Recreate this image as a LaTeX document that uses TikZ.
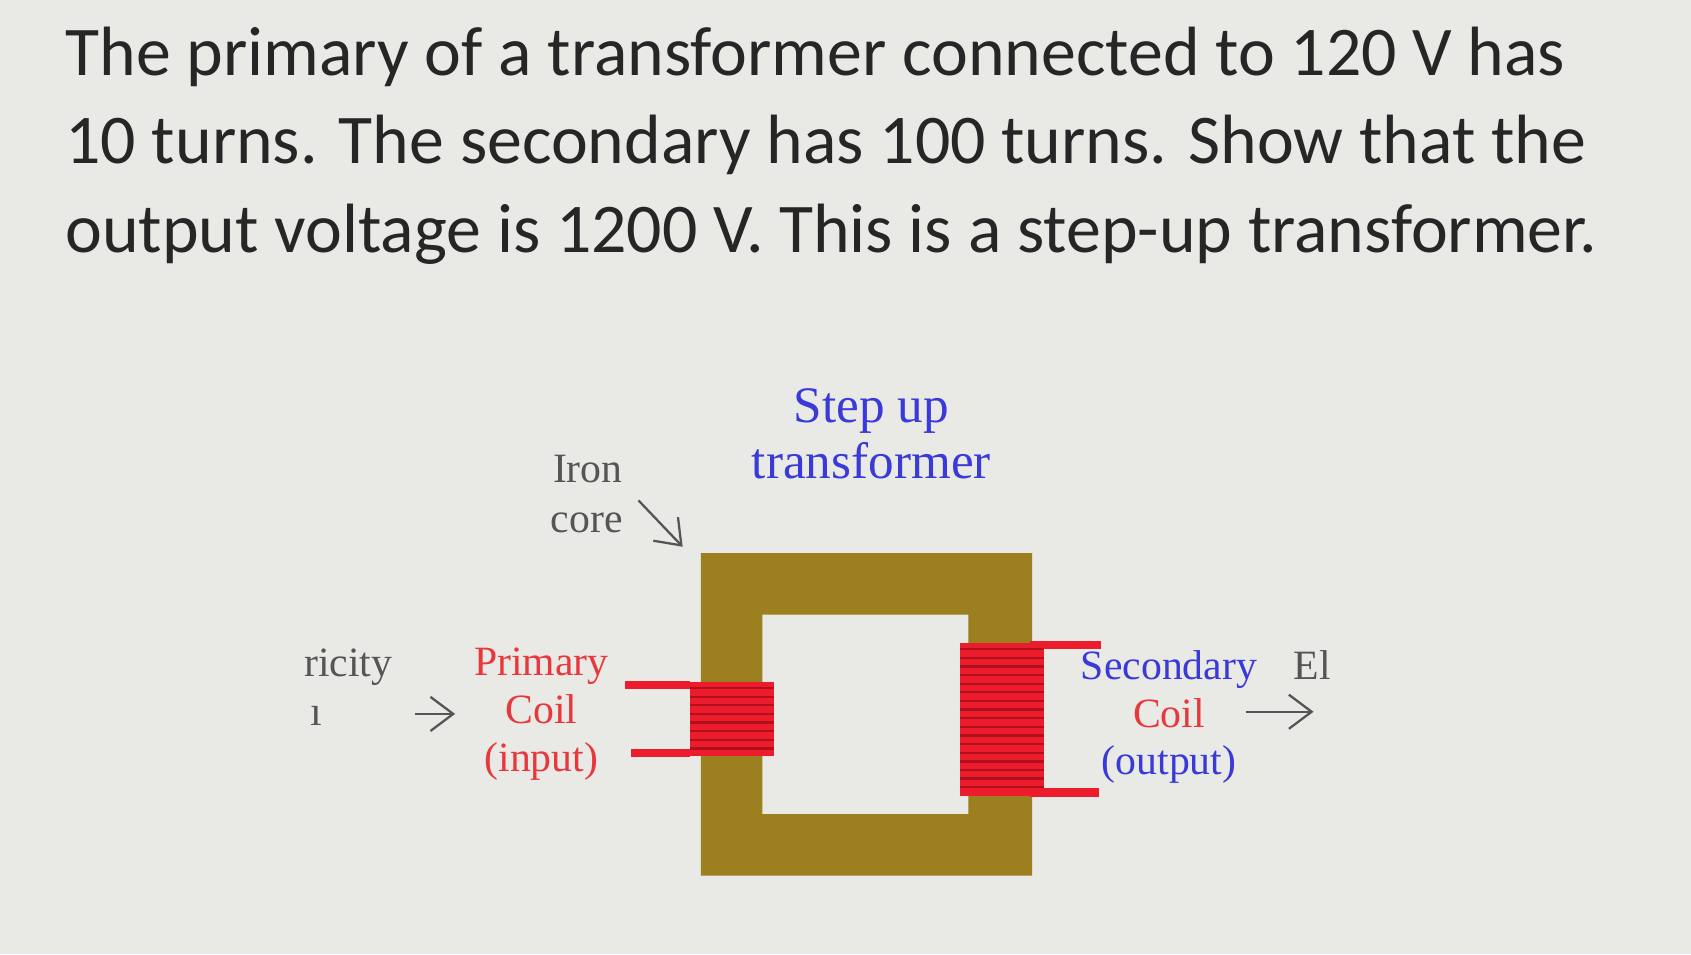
\documentclass[tikz,border=0pt]{standalone}
\usepackage{fontspec}
\setmainfont{Liberation Serif}
\newfontfamily\titlefont{Carlito}
\usetikzlibrary{arrows.meta}
\definecolor{bg}{HTML}{E9E9E6}
\definecolor{core}{HTML}{9C7F1E}
\definecolor{coil}{HTML}{EC1C2C}
\definecolor{coildark}{HTML}{B0101C}
\definecolor{lab}{HTML}{E8383C}
\definecolor{blu}{HTML}{3A3AD8}
\definecolor{gr}{HTML}{555555}
\tikzset{lbl/.style={font=\fontsize{11}{12.6}\selectfont},
  arr/.style={-{Straight Barb[length=6pt,width=9pt]},gr,line width=0.6pt},
  lead/.style={coil,line width=2.2pt}}
\begin{document}
\begin{tikzpicture}[x=0.01cm,y=-0.01cm]
\fill[bg] (0,0) rectangle (1568,885);
\useasboundingbox (0,0) rectangle (1568,885);
\node[anchor=north west,align=left,font=\titlefont\fontsize{18.4}{23.4}\selectfont,text=black!85,inner sep=0] (title) at (60,24)
{The primary of a transformer connected to 120 V has\\10 turns. The secondary has 100 turns. Show that the\\output voltage is 1200 V. This is a step-up transformer.};
% core
\fill[core,even odd rule] (650,513) rectangle (957,812) (707,570) rectangle (898,755);
\coordinate (core) at (650,513);
% primary coil
\draw[lead] (580,635) -- (640,635);
\draw[lead] (585,698) -- (640,698);
\fill[coil] (640,632) rectangle (718,701);
\foreach \y in {638,646,...,698} \draw[coildark,line width=0.6pt] (640,\y) -- (718,\y);
% secondary coil
\draw[lead] (955,598) -- (1021,598);
\draw[lead] (955,735) -- (1019,735);
\fill[coil] (890,596) rectangle (968,738);
\foreach \y in {602,610,...,734} \draw[coildark,line width=0.6pt] (890,\y) -- (968,\y);
% labels
\node[text=blu,align=center,font=\fontsize{13.5}{14.7}\selectfont] (step) at (808,402) {Step up\\transformer};
\node[lbl,text=gr,align=right,font=\fontsize{11}{13}\selectfont] (iron) at (544,458) {Iron\\core};
\draw[arr] (592,464) -- (633,507);
\node[lbl,text=lab,align=center] (prim) at (502,662) {Primary\\Coil\\(input)};
\node[lbl,text=gr] (ric) at (323,619) {ricity};
\node[lbl,text=gr] (n) at (293,664) {ı};
\draw[arr] (385,662) -- (422,662);
\node[lbl,align=center] (sec) at (1084,665) {\textcolor{blu}{Secondary}\\\textcolor{lab}{Coil}\\\textcolor{blu}{(output)}};
\node[lbl,text=gr] (el) at (1217,617) {El};
\draw[arr] (1155,660) -- (1218,660);
\end{tikzpicture}
\end{document}
